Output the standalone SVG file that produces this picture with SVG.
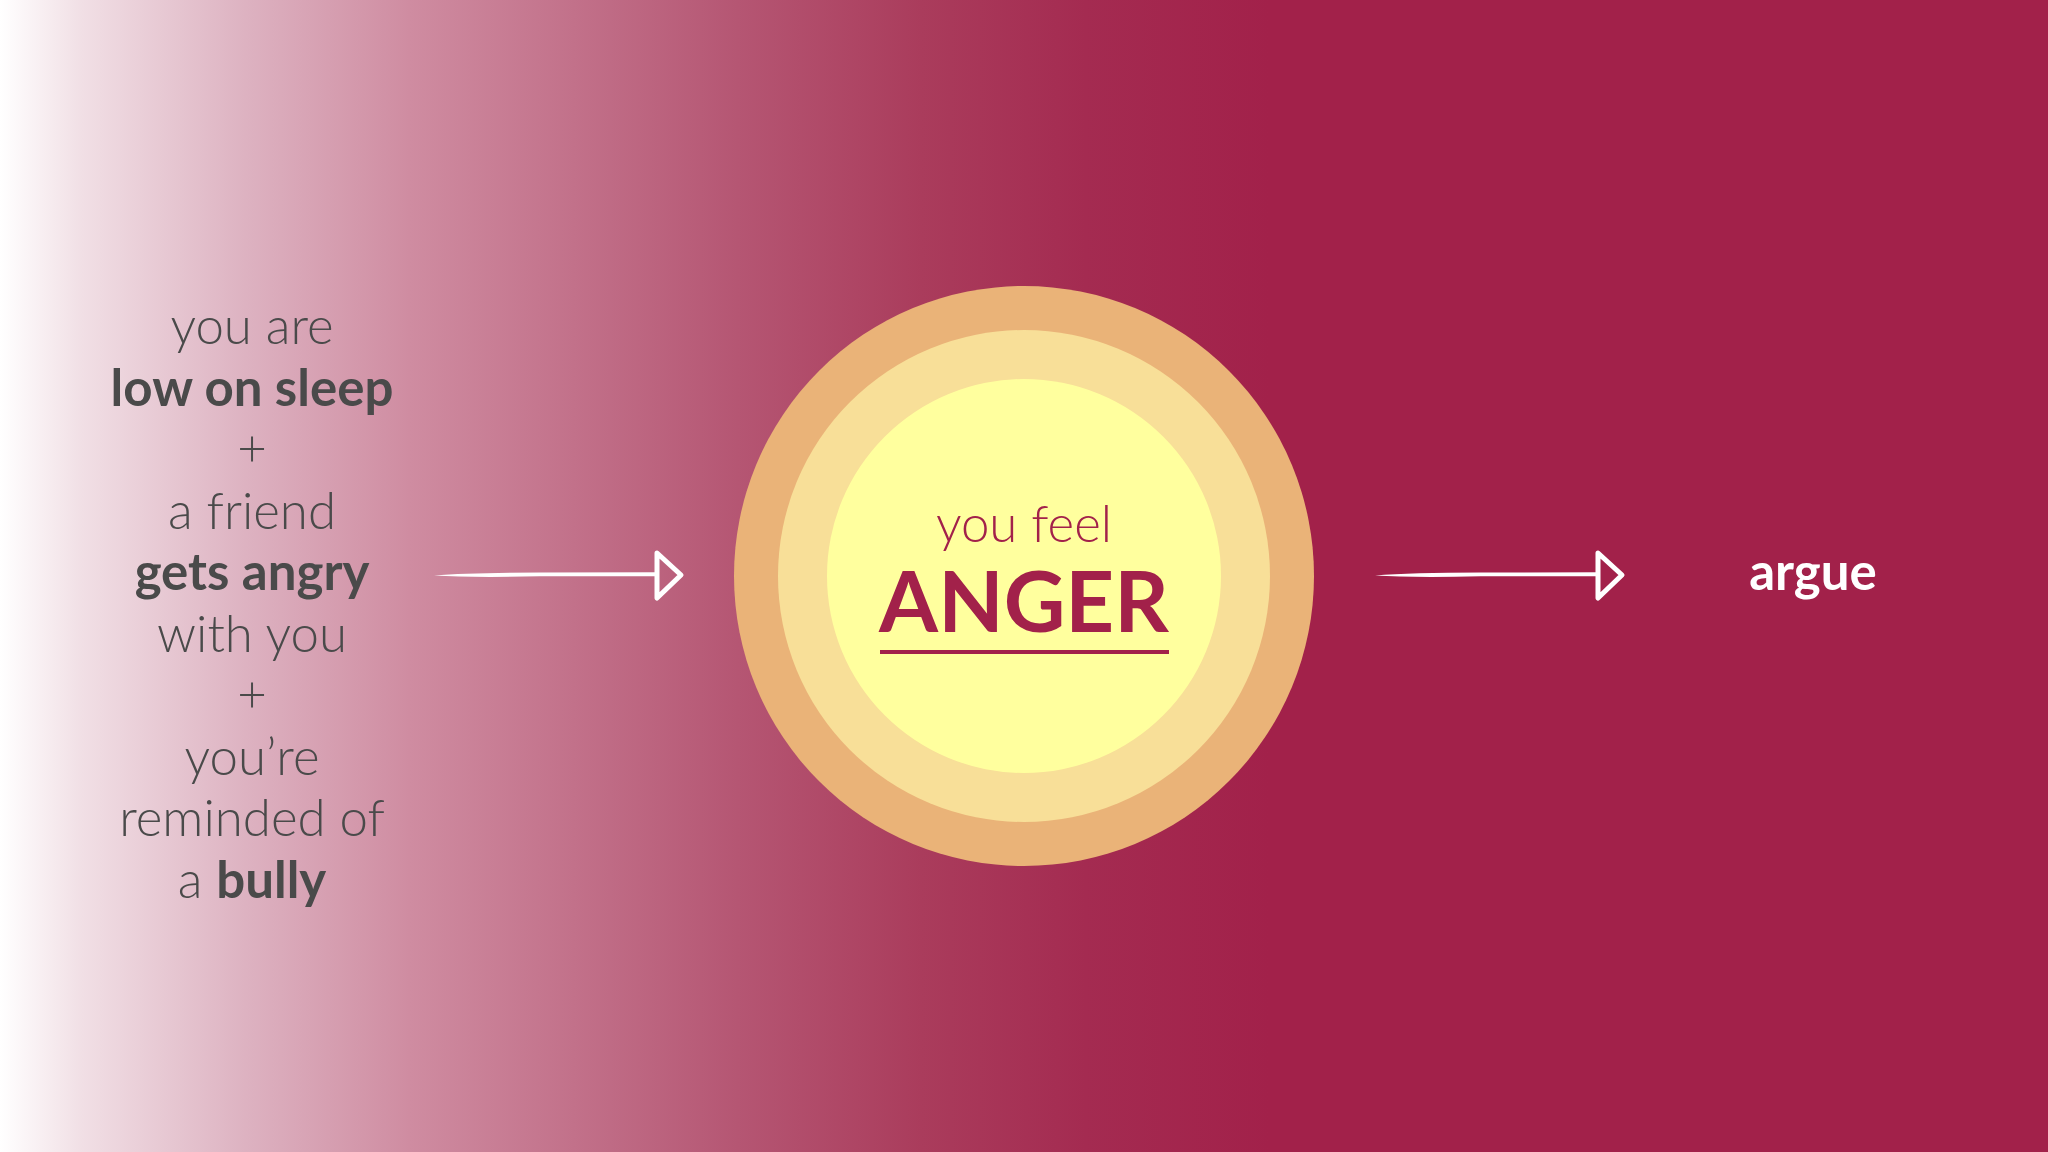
<svg xmlns="http://www.w3.org/2000/svg" width="2048" height="1152" viewBox="0 0 2048 1152">
  <defs>
    <linearGradient id="bg" x1="0" y1="0" x2="2048" y2="0" gradientUnits="userSpaceOnUse">
      <stop offset="0" stop-color="#FFFFFF"/>
      <stop offset="0.04" stop-color="#F1DFE5"/>
      <stop offset="0.12" stop-color="#DDB2C1"/>
      <stop offset="0.2" stop-color="#CF8CA1"/>
      <stop offset="0.28" stop-color="#C2718A"/>
      <stop offset="0.36" stop-color="#B55673"/>
      <stop offset="0.45" stop-color="#AA3C5C"/>
      <stop offset="0.53" stop-color="#A42B51"/>
      <stop offset="0.62" stop-color="#A2214A"/>
      <stop offset="1" stop-color="#A2214A"/>
    </linearGradient>
    <style>
      .lt { font-family: Lato, "Liberation Sans", sans-serif; font-weight: 300; font-size: 51px; fill: #4A4A4A; text-anchor: middle; }
      .bd { font-weight: 700; }
      .arrow-line { fill: #FFFFFF; }
      .arrow-head { fill: none; stroke: #FFFFFF; stroke-width: 5; stroke-linejoin: round; stroke-linecap: round; }
    </style>
  </defs>

  <rect x="0" y="0" width="2048" height="1152" fill="url(#bg)"/>

  <g id="causes">
    <text class="lt" x="252" y="344">you are</text>
    <text class="lt bd" x="252" y="406">low on sleep</text>
    <text class="lt" x="252" y="466">+</text>
    <text class="lt" x="252" y="529">a friend</text>
    <text class="lt bd" x="252" y="590">gets angry</text>
    <text class="lt" x="252" y="652">with you</text>
    <text class="lt" x="252" y="712">+</text>
    <text class="lt" x="252" y="775">you’re</text>
    <text class="lt" x="252" y="836">reminded of</text>
    <text class="lt" x="252" y="898">a <tspan class="bd">bully</tspan></text>
  </g>

  <g id="anger">
    <circle cx="1024" cy="576" r="290" fill="#EAB378"/>
    <circle cx="1024" cy="576" r="246" fill="#F8DF98"/>
    <circle cx="1024" cy="576" r="197" fill="#FFFF9E"/>
    <text x="1024" y="542" font-family="Lato, 'Liberation Sans', sans-serif" font-weight="300" font-size="51" fill="#A2214A" text-anchor="middle">you feel</text>
    <text x="1024" y="632" font-family="Lato, 'Liberation Sans', sans-serif" font-weight="700" font-size="85" fill="#A2214A" text-anchor="middle">ANGER</text>
    <rect x="880" y="650" width="289" height="4" fill="#A2214A"/>
  </g>

  <g id="result">
    <text x="1813" y="590" font-family="Lato, 'Liberation Sans', sans-serif" font-weight="700" font-size="51" fill="#FFFFFF" text-anchor="middle">argue</text>
  </g>

  <g id="connectors">
    <g id="arrow1">
      <path class="arrow-line" d="M434,575.5 Q470,572.5 540,572.5 L657,572.3 L657,576.3 L540,576.3 Q470,577.8 434,575.5 Z"/>
      <path class="arrow-head" d="M657,553 L681,575 L657,598 Z"/>
    </g>
    <g id="arrow2" transform="translate(941,0)">
      <path class="arrow-line" d="M434,575.5 Q470,572.5 540,572.5 L657,572.3 L657,576.3 L540,576.3 Q470,577.8 434,575.5 Z"/>
      <path class="arrow-head" d="M657,553 L681,575 L657,598 Z"/>
    </g>
  </g>
</svg>
